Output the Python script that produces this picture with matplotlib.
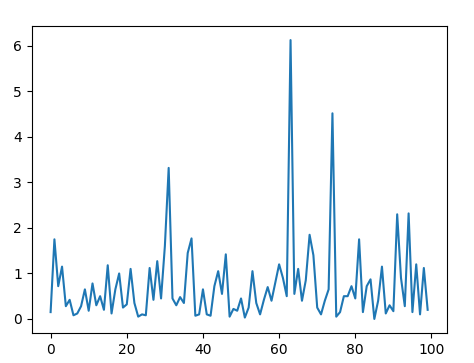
import numpy as np
import matplotlib
matplotlib.use("Agg")
import matplotlib.pyplot as plt

# values, one per index 0..99
values = [
    0.15, 1.75, 0.72, 1.15, 0.28, 0.42, 0.08, 0.12, 0.28, 0.65,
    0.18, 0.78, 0.30, 0.50, 0.20, 1.18, 0.12, 0.65, 1.00, 0.25,
    0.32, 1.10, 0.35, 0.05, 0.10, 0.08, 1.12, 0.42, 1.27, 0.45,
    1.60, 3.32, 0.45, 0.30, 0.48, 0.35, 1.45, 1.77, 0.07, 0.10,
    0.65, 0.10, 0.07, 0.72, 1.05, 0.55, 1.42, 0.05, 0.22, 0.18,
    0.45, 0.03, 0.25, 1.05, 0.35, 0.10, 0.42, 0.70, 0.40, 0.80,
    1.20, 0.90, 0.50, 6.13, 0.55, 1.10, 0.40, 0.85, 1.85, 1.40,
    0.25, 0.10, 0.40, 0.65, 4.52, 0.05, 0.15, 0.50, 0.50, 0.72,
    0.45, 1.75, 0.15, 0.72, 0.87, 0.00, 0.40, 1.15, 0.12, 0.30,
    0.17, 2.30, 0.90, 0.28, 2.32, 0.15, 1.20, 0.10, 1.12, 0.20,
]
x = np.arange(len(values))

fig = plt.figure(figsize=(4.74, 3.63), dpi=100)
ax = fig.add_axes([0.067, 0.083, 0.875, 0.845])
ax.plot(x, values, color='#1f77b4', linewidth=1.5)

plt.savefig("out.png", dpi=100)
